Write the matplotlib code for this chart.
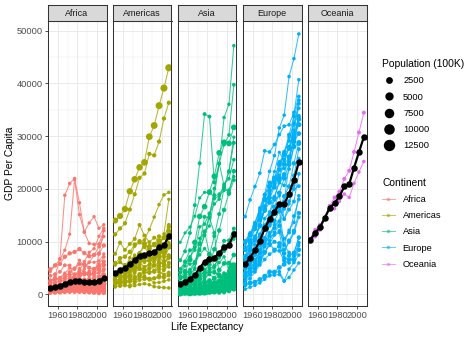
import numpy as np
import matplotlib
matplotlib.use("Agg")
import matplotlib.pyplot as plt
from matplotlib.lines import Line2D

plt.rcParams["font.family"] = ["Liberation Sans", "DejaVu Sans"]

# years of the gapminder snapshots
YEARS = [1952, 1957, 1962, 1967, 1972, 1977, 1982, 1987, 1992, 1997, 2002, 2007]
CONTINENTS = ["Africa", "Americas", "Asia", "Europe", "Oceania"]
COLORS = {"Africa": "#F8766D", "Americas": "#A3A500", "Asia": "#00BF7D",
          "Europe": "#00B0F6", "Oceania": "#E76BF3"}

# GDP per capita by country
AFRICA_GDP = {
    "Libya": [2388, 3448, 6757, 18773, 21011, 21951, 17364, 11770, 9640, 9467, 9535, 12057],
    "Gabon": [4293, 5488, 6631, 8358, 11401, 21746, 15113, 11864, 13522, 14723, 12522, 13206],
    "South Africa": [4725, 5487, 5769, 7114, 7766, 8029, 8568, 7826, 7225, 7479, 7711, 9270],
    "Botswana": [851, 918, 984, 1215, 2264, 3215, 4551, 6206, 7954, 8647, 11004, 12570],
    "Equatorial Guinea": [376, 426, 582, 915, 672, 958, 927, 966, 1132, 2815, 7703, 12154],
    "Mauritius": [1968, 2034, 2529, 2475, 2575, 3710, 3689, 4783, 6058, 7425, 9021, 10957],
    "Algeria": [2449, 3014, 2551, 3247, 4183, 4910, 5745, 5681, 5023, 4797, 5288, 6223],
    "Reunion": [2719, 2769, 3173, 4021, 4998, 4734, 6470, 5303, 6101, 6072, 6316, 7670],
    "Tunisia": [1469, 1395, 1661, 1932, 2753, 3120, 3560, 3810, 4332, 4876, 5723, 7093],
    "Egypt": [1419, 1459, 1693, 1815, 2024, 2785, 3504, 3885, 3795, 4173, 4755, 5581],
    "Morocco": [1688, 1643, 1566, 1711, 1930, 2371, 2702, 2755, 2948, 2983, 3259, 3820],
    "Namibia": [2424, 2621, 3173, 3793, 3747, 3876, 4191, 3693, 3804, 3899, 4072, 4811],
    "Angola": [3521, 3828, 4269, 5523, 5473, 3009, 2757, 2430, 2628, 2277, 2773, 4797],
    "Congo Rep.": [2126, 2315, 2465, 2678, 3213, 3259, 4879, 4201, 4016, 3484, 3484, 3633],
    "Swaziland": [1148, 1244, 1597, 1711, 2370, 3782, 3895, 3985, 3554, 3877, 4128, 4513],
    "Nigeria": [1077, 1101, 1151, 1015, 1698, 1982, 1577, 1385, 1620, 1625, 1615, 2014],
    "Ethiopia": [362, 379, 419, 516, 566, 557, 577, 573, 421, 515, 531, 691],
    "Congo Dem. Rep.": [781, 906, 896, 862, 905, 796, 673, 672, 457, 312, 241, 278],
    "Cameroon": [1173, 1313, 1400, 1508, 1684, 1783, 2368, 2603, 1793, 1694, 1934, 2042],
    "Kenya": [854, 944, 897, 1057, 1222, 1268, 1348, 1361, 1341, 1360, 1288, 1463],
    "Ghana": [911, 1044, 1190, 1126, 1178, 993, 876, 847, 925, 1005, 1112, 1328],
    "Zimbabwe": [407, 519, 527, 570, 799, 686, 788, 706, 693, 792, 672, 470],
    "Sudan": [1615, 1770, 1959, 1687, 1659, 2202, 1896, 1508, 1493, 1633, 1823, 2602],
    "Senegal": [1450, 1568, 1654, 1612, 1597, 1562, 1518, 1441, 1367, 1392, 1519, 1712],
    "Cote d'Ivoire": [1389, 1500, 1728, 2052, 2378, 2518, 2603, 2156, 1648, 1786, 1649, 1545],
    "Tanzania": [717, 698, 722, 848, 916, 962, 875, 831, 825, 789, 899, 1107],
    "Uganda": [735, 774, 767, 908, 950, 844, 683, 618, 644, 816, 928, 1056],
    "Mozambique": [469, 495, 557, 567, 724, 502, 462, 390, 410, 472, 634, 824],
    "Djibouti": [2670, 2865, 3021, 3020, 3694, 3081, 2880, 2880, 2377, 1895, 1908, 2082],
    "Sao Tome and Principe": [880, 861, 1072, 1385, 1533, 1738, 1890, 1516, 1428, 1339, 1353, 1598],
    "Benin": [1173, 1133, 1067, 1361, 1293, 1220, 1428, 1225, 1191, 1233, 1373, 1441],
    "Burkina Faso": [543, 617, 723, 795, 855, 743, 807, 912, 932, 946, 1038, 1217],
    "Burundi": [339, 380, 355, 413, 464, 556, 560, 622, 632, 463, 446, 430],
    "Central African Republic": [1071, 1191, 1193, 1136, 1070, 1109, 957, 844, 748, 741, 738, 706],
    "Chad": [1179, 1308, 1390, 1197, 1104, 1134, 798, 952, 1058, 1005, 1156, 1704],
    "Comoros": [1103, 1211, 1407, 1876, 1938, 1173, 1267, 1316, 1247, 1174, 1076, 986],
    "Gambia": [485, 521, 600, 735, 756, 884, 836, 612, 665, 653, 661, 753],
    "Guinea": [510, 576, 687, 708, 741, 874, 857, 805, 795, 870, 945, 943],
    "Lesotho": [299, 336, 412, 498, 497, 746, 797, 774, 977, 1186, 1275, 1569],
    "Liberia": [576, 620, 634, 714, 803, 641, 573, 506, 636, 610, 531, 415],
    "Madagascar": [1443, 1590, 1644, 1635, 1749, 1544, 1303, 1156, 1041, 987, 895, 1045],
    "Malawi": [369, 416, 428, 496, 585, 663, 632, 635, 563, 692, 665, 759],
    "Mali": [452, 490, 497, 545, 581, 686, 618, 684, 740, 790, 952, 1042],
    "Mauritania": [744, 847, 1055, 1422, 1586, 1497, 1481, 1421, 1361, 1483, 1579, 1803],
    "Niger": [761, 835, 998, 1055, 954, 808, 909, 668, 581, 580, 601, 620],
    "Rwanda": [493, 540, 597, 511, 591, 670, 882, 848, 737, 590, 786, 863],
    "Sierra Leone": [880, 1005, 1117, 1207, 1353, 1349, 1465, 1295, 1069, 575, 699, 863],
    "Somalia": [1136, 1258, 1369, 1285, 1254, 1450, 1177, 1093, 927, 931, 882, 926],
    "Togo": [859, 926, 1067, 1477, 1650, 1533, 1344, 1203, 1034, 982, 886, 883],
    "Zambia": [1147, 1312, 1453, 1777, 1773, 1589, 1409, 1213, 1211, 1071, 1072, 1271],
    "Eritrea": [329, 344, 381, 468, 514, 505, 524, 521, 582, 913, 765, 641],
    "Guinea-Bissau": [300, 432, 522, 716, 820, 765, 839, 736, 745, 797, 576, 579],
}
AMERICAS_GDP = {
    "United States": [13990, 14847, 16173, 19530, 21806, 24073, 25010, 29884, 32004, 35767, 39097, 42952],
    "Canada": [11367, 12490, 13462, 16077, 18971, 22091, 22899, 26627, 26343, 28955, 33329, 36319],
    "Puerto Rico": [3082, 3908, 5108, 6929, 9123, 9771, 10331, 12281, 14642, 16999, 18856, 19329],
    "Venezuela": [7690, 9803, 8423, 9541, 10506, 13144, 11152, 9884, 10734, 10165, 8605, 11416],
    "Trinidad and Tobago": [3023, 4100, 4997, 5621, 6619, 7900, 9119, 7389, 7371, 8793, 11461, 18009],
    "Argentina": [5911, 6857, 7133, 8053, 9443, 10079, 8998, 9140, 9308, 10967, 8798, 12779],
    "Chile": [3940, 4316, 4519, 5107, 5494, 4757, 5096, 5547, 7596, 10118, 10779, 13172],
    "Mexico": [3478, 4132, 4582, 5755, 6809, 7675, 9611, 8688, 9472, 9767, 10742, 11978],
    "Uruguay": [5717, 6150, 5603, 5445, 5703, 6504, 6920, 7452, 8137, 9231, 7727, 10611],
    "Brazil": [2109, 2487, 3337, 3430, 4986, 6660, 7031, 7807, 6950, 7958, 8131, 9066],
    "Panama": [2480, 2961, 3536, 4421, 5364, 5351, 7010, 7034, 6619, 7114, 7357, 9809],
    "Costa Rica": [2627, 2990, 3461, 4162, 5118, 5927, 5263, 5630, 6160, 6677, 7723, 9645],
    "Cuba": [5587, 6092, 5181, 5690, 5306, 6380, 7317, 7532, 5593, 5432, 6341, 8948],
    "Jamaica": [2899, 4757, 5246, 6125, 7434, 6650, 6068, 6352, 7405, 7122, 6995, 7321],
    "Colombia": [2144, 2324, 2492, 2679, 3265, 3816, 4398, 4903, 5445, 6118, 5755, 7007],
    "Peru": [3759, 4245, 4957, 5788, 5938, 6281, 6435, 6361, 4446, 5838, 5909, 7409],
    "Ecuador": [3522, 3781, 4086, 4580, 5281, 6680, 7213, 6481, 7104, 7429, 5773, 6873],
    "Dominican Republic": [1398, 1544, 1662, 1654, 2190, 2682, 2862, 2903, 3045, 3615, 4564, 6025],
    "El Salvador": [3048, 3421, 3777, 4359, 4520, 5139, 4098, 4140, 4444, 5154, 5352, 5728],
    "Guatemala": [2428, 2617, 2750, 3243, 4031, 4880, 4820, 4246, 4439, 4684, 4858, 5186],
    "Paraguay": [1952, 2046, 2149, 2299, 2523, 3248, 4259, 3999, 4196, 4248, 3784, 4173],
    "Bolivia": [2677, 2128, 2181, 2587, 2980, 3548, 3157, 2754, 2962, 3327, 3413, 3822],
    "Honduras": [2195, 2221, 2292, 2538, 2529, 3203, 3122, 3023, 3082, 3160, 3099, 3548],
    "Nicaragua": [3112, 3457, 3635, 4643, 4689, 5487, 3470, 2955, 2170, 2253, 2474, 2749],
    "Haiti": [1840, 1726, 1797, 1456, 1654, 1874, 2011, 1823, 1456, 1342, 1270, 1202],
}
ASIA_GDP = {
    "Singapore": [2315, 2843, 3675, 4977, 8597, 11210, 15169, 18862, 24769, 33519, 36023, 47143],
    "Japan": [3217, 4318, 6577, 9848, 14779, 16610, 19384, 22376, 26825, 28817, 28605, 31656],
    "Hong Kong": [3054, 3629, 4693, 6198, 8316, 11186, 14561, 20038, 24758, 28378, 30209, 39725],
    "Taiwan": [1207, 1508, 1823, 2644, 4063, 5597, 7427, 11055, 15216, 20207, 23235, 28718],
    "Korea, Rep.": [1031, 1488, 1537, 2029, 3031, 4657, 5623, 8533, 12104, 15994, 19234, 23348],
    "Saudi Arabia": [6460, 8157, 11626, 16904, 24837, 34168, 33693, 21199, 24841, 20587, 19014, 21655],
    "Bahrain": [9867, 11636, 12753, 14805, 18269, 19340, 19211, 18524, 19036, 20292, 23404, 29796],
    "Israel": [4087, 5386, 7106, 8394, 12787, 13306, 15367, 17122, 18051, 20897, 21906, 25523],
    "Oman": [1828, 2243, 2925, 4721, 10619, 11848, 12955, 18115, 18617, 19702, 19775, 22316],
    "Iran": [3035, 3290, 4187, 5907, 9614, 11889, 7608, 6643, 7235, 8263, 9241, 11606],
    "Iraq": [4130, 6229, 8342, 8931, 9576, 14688, 14517, 11644, 3746, 3076, 4391, 4471],
    "Lebanon": [4835, 6090, 5715, 6006, 7486, 8659, 7641, 5377, 6890, 8755, 9314, 10461],
    "Malaysia": [1831, 1810, 2037, 2278, 2849, 3828, 4920, 5249, 7278, 10132, 10207, 12452],
    "China": [400, 576, 488, 613, 677, 741, 962, 1379, 1656, 2289, 3119, 4959],
    "India": [547, 590, 658, 701, 724, 813, 856, 977, 1164, 1459, 1747, 2452],
    "Indonesia": [750, 859, 849, 763, 1111, 1383, 1517, 1748, 2383, 3119, 2874, 3541],
    "Thailand": [758, 874, 1006, 1410, 1777, 2127, 2394, 2983, 4617, 5853, 5914, 7458],
    "Jordan": [1547, 1887, 2349, 2742, 2110, 2853, 4161, 4448, 3431, 3646, 3845, 4519],
    "Syria": [1644, 2117, 2194, 1882, 2572, 3196, 3762, 3116, 3341, 4015, 4091, 4185],
    "Philippines": [1273, 1548, 1650, 1814, 1989, 2374, 2604, 2190, 2279, 2537, 2651, 3190],
    "Sri Lanka": [1084, 1073, 1074, 1136, 1213, 1349, 1648, 1877, 2154, 2665, 3015, 3970],
    "Mongolia": [786, 912, 1056, 1226, 1421, 1648, 2000, 2338, 1785, 1902, 2141, 3096],
    "Pakistan": [685, 747, 804, 942, 1050, 1176, 1443, 1705, 1972, 2049, 2093, 2606],
    "Vietnam": [605, 677, 772, 637, 700, 714, 707, 821, 989, 1386, 1764, 2442],
    "Bangladesh": [684, 662, 686, 721, 630, 660, 677, 752, 837, 973, 1136, 1391],
    "Cambodia": [368, 434, 497, 523, 422, 525, 624, 684, 682, 734, 896, 1714],
    "Myanmar": [331, 350, 388, 349, 357, 371, 424, 385, 347, 415, 611, 944],
    "Nepal": [546, 598, 652, 676, 674, 694, 718, 775, 897, 1011, 1057, 1091],
    "Yemen": [782, 805, 826, 862, 1265, 1830, 1978, 1972, 1880, 2153, 2235, 2281],
    "Korea, Dem. Rep.": [1088, 1571, 1621, 2144, 3702, 4106, 4106, 4106, 3726, 1691, 1647, 1593],
    "Afghanistan": [779, 821, 853, 836, 740, 786, 978, 852, 649, 635, 727, 975],
    "West Bank and Gaza": [1516, 1827, 2199, 2650, 3133, 3682, 4336, 5107, 6018, 7111, 4516, 3025],
}
EUROPE_GDP = {
    "Norway": [10095, 11654, 13450, 16362, 18965, 23311, 26299, 31541, 33966, 41283, 44684, 49357],
    "Switzerland": [14734, 17909, 20431, 22966, 27195, 26982, 28398, 30282, 31872, 32135, 34481, 37506],
    "Netherlands": [8942, 11276, 12791, 15363, 18795, 21209, 21399, 23651, 26791, 30246, 33725, 36798],
    "Ireland": [5210, 5599, 6632, 7656, 9531, 11151, 12618, 13873, 17558, 24522, 34077, 40676],
    "Iceland": [7268, 9244, 10350, 13320, 15798, 19655, 23270, 26924, 25144, 28061, 31163, 36181],
    "Denmark": [9692, 11100, 13584, 15938, 18867, 20423, 21688, 25116, 26407, 29804, 32167, 35278],
    "Austria": [6137, 8843, 10751, 12835, 16662, 19749, 21597, 23688, 27042, 29096, 32418, 36126],
    "Sweden": [8528, 9912, 12329, 15259, 17832, 18856, 20667, 23587, 23880, 25267, 29342, 33860],
    "Belgium": [8343, 9715, 10991, 13149, 16672, 19118, 20979, 22526, 25576, 27561, 30486, 33693],
    "Germany": [7144, 10188, 12902, 14746, 18016, 20513, 22032, 24639, 26505, 27789, 30036, 32170],
    "United Kingdom": [9980, 11283, 12477, 14143, 15895, 17429, 18232, 21665, 22705, 26075, 29479, 33203],
    "Finland": [6425, 7545, 9372, 10922, 14359, 15605, 18533, 21141, 20647, 23724, 28205, 33207],
    "France": [7030, 8663, 10560, 12999, 16107, 18293, 20294, 22066, 24704, 25890, 28926, 30470],
    "Italy": [4931, 6249, 8244, 10022, 12269, 14256, 16537, 19208, 22013, 24675, 27968, 28570],
    "Spain": [3834, 4565, 5694, 7994, 10639, 13237, 13926, 15765, 18603, 20445, 24835, 28821],
    "Greece": [3531, 4916, 6017, 8513, 12725, 14196, 15268, 16121, 17541, 18748, 22514, 27538],
    "Slovenia": [4215, 5862, 7402, 9405, 12384, 15277, 17866, 18678, 14214, 17161, 20660, 25768],
    "Czech Republic": [6876, 8256, 10137, 11399, 13108, 14800, 15377, 16310, 14297, 16049, 17596, 22833],
    "Portugal": [3068, 3775, 4728, 6362, 9022, 10172, 11754, 13040, 16207, 17641, 19971, 20510],
    "Slovak Republic": [5074, 6093, 7481, 8412, 9674, 10923, 11348, 12037, 9498, 12127, 13639, 18678],
    "Hungary": [5264, 6040, 7550, 9326, 10168, 11674, 12546, 12987, 10535, 11712, 14843, 18009],
    "Poland": [4029, 4734, 5338, 6557, 8006, 9508, 8451, 9082, 7739, 10160, 12002, 15390],
    "Croatia": [3119, 4338, 5478, 6960, 9164, 11305, 13222, 13823, 8448, 9876, 11628, 14619],
    "Montenegro": [2648, 3682, 4650, 5907, 7779, 9595, 11223, 11733, 7003, 6465, 6558, 9254],
    "Serbia": [3581, 4981, 6290, 7992, 10523, 12980, 15181, 15871, 9326, 7915, 7236, 9787],
    "Romania": [3145, 3943, 4734, 6471, 8011, 9357, 9956, 9697, 6598, 7346, 7886, 10808],
    "Bulgaria": [2444, 3009, 4255, 5578, 6597, 7613, 8225, 8240, 6303, 5970, 7697, 10681],
    "Turkey": [1970, 2219, 2323, 2826, 3451, 4269, 4241, 5089, 5679, 6601, 6509, 8458],
    "Bosnia and Herzegovina": [974, 1354, 1710, 2172, 2860, 3528, 4127, 4314, 2547, 4766, 6019, 7446],
    "Albania": [1601, 1942, 2313, 2760, 3313, 3533, 3631, 3739, 2497, 3193, 4604, 5937],
}
OCEANIA_GDP = {
    "Australia": [10040, 10950, 12217, 14526, 16789, 18334, 19477, 21889, 23425, 26998, 30688, 34435],
    "New Zealand": [10557, 12247, 13176, 14464, 16046, 16234, 17632, 19007, 18363, 21050, 23190, 25185],
}

# population in millions (one typical value, or one per year for the giants)
AFRICA_POP = {
    "Libya": 3, "Gabon": 0.7, "South Africa": 30, "Botswana": 1, "Equatorial Guinea": 0.3,
    "Mauritius": 1, "Algeria": 20, "Reunion": 0.5, "Tunisia": 7, "Egypt": 45, "Morocco": 20,
    "Namibia": 1.2, "Angola": 8, "Congo Rep.": 2, "Swaziland": 0.6, "Nigeria": 75,
    "Ethiopia": 40, "Congo Dem. Rep.": 30, "Cameroon": 10, "Kenya": 18, "Ghana": 12,
    "Zimbabwe": 8, "Sudan": 20, "Senegal": 6, "Cote d'Ivoire": 9, "Tanzania": 19,
    "Uganda": 14, "Mozambique": 12, "Djibouti": 0.3, "Sao Tome and Principe": 0.1,
    "Benin": 4, "Burkina Faso": 7, "Burundi": 4.5, "Central African Republic": 2.5,
    "Chad": 5, "Comoros": 0.4, "Gambia": 0.7, "Guinea": 5, "Lesotho": 1.4, "Liberia": 2,
    "Madagascar": 10, "Malawi": 7, "Mali": 7, "Mauritania": 1.6, "Niger": 6, "Rwanda": 5.5,
    "Sierra Leone": 3.5, "Somalia": 6, "Togo": 3, "Zambia": 6, "Eritrea": 2.5,
    "Guinea-Bissau": 0.8,
}
AMERICAS_POP = {
    "United States": [157.6, 172.0, 186.5, 198.7, 209.9, 220.2, 232.2, 242.8, 256.9, 272.9, 287.7, 301.1],
    "Canada": 25, "Puerto Rico": 3.2, "Venezuela": 15, "Trinidad and Tobago": 1.1,
    "Argentina": 28, "Chile": 11, "Mexico": 70, "Uruguay": 2.9,
    "Brazil": [56.6, 65.6, 76.0, 88.0, 100.8, 114.3, 129.0, 142.9, 156.0, 168.5, 179.9, 190.0],
    "Panama": 2, "Costa Rica": 2.4, "Cuba": 9.7, "Jamaica": 2.2, "Colombia": 28, "Peru": 18,
    "Ecuador": 8, "Dominican Republic": 6, "El Salvador": 4.7, "Guatemala": 7,
    "Paraguay": 3.2, "Bolivia": 5.6, "Honduras": 3.8, "Nicaragua": 3, "Haiti": 5.5,
}
ASIA_POP = {
    "Singapore": 2.3,
    "Japan": [86.5, 91.6, 95.8, 100.8, 107.2, 113.9, 118.5, 122.1, 124.3, 126.0, 127.1, 127.5],
    "Hong Kong": 5, "Taiwan": 18, "Korea, Rep.": 38, "Saudi Arabia": 12, "Bahrain": 0.35,
    "Israel": 4, "Oman": 1.3, "Iran": 40, "Iraq": 14, "Lebanon": 2.8, "Malaysia": 14,
    "China": [556, 637, 666, 755, 862, 943, 1000, 1084, 1165, 1230, 1280, 1319],
    "India": [372, 409, 454, 506, 567, 634, 708, 788, 872, 959, 1034, 1110],
    "Indonesia": [82, 90, 99, 110, 121, 136, 153, 169, 184, 199, 211, 224],
    "Thailand": 48, "Jordan": 2.5, "Syria": 9, "Philippines": 50, "Sri Lanka": 15,
    "Mongolia": 1.7, "Pakistan": 85, "Vietnam": 55, "Bangladesh": 90, "Cambodia": 7,
    "Myanmar": 35, "Nepal": 15, "Yemen": 9, "Korea, Dem. Rep.": 18, "Afghanistan": 13,
    "West Bank and Gaza": 1.5,
}
EUROPE_POP = {
    "Norway": 4.1, "Switzerland": 6.4, "Netherlands": 14, "Ireland": 3.3, "Iceland": 0.23,
    "Denmark": 5.1, "Austria": 7.5, "Sweden": 8.3, "Belgium": 9.9, "Germany": 78,
    "United Kingdom": 56, "Finland": 4.8, "France": 54, "Italy": 56, "Spain": 37,
    "Greece": 9.7, "Slovenia": 1.9, "Czech Republic": 10, "Portugal": 9.8,
    "Slovak Republic": 5, "Hungary": 10.5, "Poland": 36, "Croatia": 4.5, "Montenegro": 0.58,
    "Serbia": 9, "Romania": 22, "Bulgaria": 8.8, "Turkey": 46,
    "Bosnia and Herzegovina": 4, "Albania": 2.7,
}
OCEANIA_POP = {"Australia": 15, "New Zealand": 3.2}

# continent mean GDP per capita (black line)
AFRICA_MEAN = [1253, 1385, 1598, 2050, 2340, 2586, 2482, 2283, 2282, 2379, 2599, 3089]
AMERICAS_MEAN = [4079, 4616, 4902, 5668, 6491, 7352, 7507, 7793, 8045, 8889, 9288, 11003]
ASIA_MEAN = [1971, 2421, 2925, 3630, 5026, 6183, 6687, 6967, 7818, 8882, 9395, 11384]
EUROPE_MEAN = [5661, 6963, 8365, 10144, 12480, 14284, 15618, 17214, 17062, 19077, 21712, 25054]
OCEANIA_MEAN = [10298, 11599, 12696, 14495, 16417, 17284, 18555, 20448, 20894, 24024, 26939, 29810]

SIZE_BREAKS = [2500, 5000, 7500, 10000, 12500]
POP_LIMITS = (0.6, 13186)  # in 100K

GDP = dict(zip(CONTINENTS, [AFRICA_GDP, AMERICAS_GDP, ASIA_GDP, EUROPE_GDP, OCEANIA_GDP]))
POP = dict(zip(CONTINENTS, [AFRICA_POP, AMERICAS_POP, ASIA_POP, EUROPE_POP, OCEANIA_POP]))
MEAN = dict(zip(CONTINENTS, [AFRICA_MEAN, AMERICAS_MEAN, ASIA_MEAN, EUROPE_MEAN, OCEANIA_MEAN]))

W, H, DPI = 474, 338, 100
TICK_FS = 6.7
TITLE_FS = 7.4


def gg_size(p100k):
    lo, hi = POP_LIMITS
    return 1 + 5 * np.sqrt(np.clip((np.asarray(p100k, float) - lo) / (hi - lo), 0, 1))


def diam_pt(size):
    return (1.7 * size + 1.4) * 72 / DPI


# shared limits like ggplot (5% expansion)
allv = np.concatenate([np.ravel(list(d.values())) for d in GDP.values()])
ymin, ymax = allv.min(), allv.max()
ypad = (ymax - ymin) * 0.05
xpad = (YEARS[-1] - YEARS[0]) * 0.05

fig = plt.figure(figsize=(W / DPI, H / DPI), dpi=DPI)

for i, cont in enumerate(CONTINENTS):
    left = 47.5 + i * 65
    ax = fig.add_axes([left / W, 1 - 306 / H, 59 / W, 285 / H])
    col = COLORS[cont]
    for name, vals in GDP[cont].items():
        ax.plot(YEARS, vals, color=col, lw=0.75, alpha=0.8, zorder=2)
    for name, vals in GDP[cont].items():
        pop = np.broadcast_to(np.asarray(POP[cont][name], float) * 10, (len(YEARS),))
        ax.scatter(YEARS, vals, s=diam_pt(gg_size(pop)) ** 2, color=col, lw=0, zorder=3)
    ax.plot(YEARS, MEAN[cont], color="black", lw=1.6, zorder=4)
    ax.scatter(YEARS, MEAN[cont], s=diam_pt(3.0) ** 2, color="black", lw=0, zorder=5)

    ax.set_xlim(YEARS[0] - xpad, YEARS[-1] + xpad)
    ax.set_ylim(ymin - ypad, ymax + ypad)
    ax.set_xticks([1960, 1980, 2000])
    ax.set_xticks([1950, 1970, 1990], minor=True)
    ax.set_yticks(np.arange(0, 50001, 10000))
    ax.set_yticks(np.arange(5000, 50000, 10000), minor=True)
    ax.grid(which="major", color="#EBEBEB", lw=0.7, zorder=0)
    ax.grid(which="minor", color="#EBEBEB", lw=0.35, zorder=0)
    ax.set_axisbelow(True)
    ax.tick_params(which="major", labelsize=TICK_FS, color="#333333", labelcolor="#4D4D4D",
                   length=2.0, width=0.6, pad=1.4)
    ax.tick_params(which="minor", length=0)
    if i > 0:
        ax.tick_params(left=False, labelleft=False)
    for sp in ax.spines.values():
        sp.set_color("#333333")
        sp.set_linewidth(0.75)

    strip = fig.add_axes([left / W, 1 - 21 / H, 59 / W, 16 / H])
    strip.set_facecolor("#D9D9D9")
    strip.set_xticks([])
    strip.set_yticks([])
    for sp in strip.spines.values():
        sp.set_color("#333333")
        sp.set_linewidth(0.75)
    strip.text(0.5, 0.5, cont, ha="center", va="center", fontsize=6.5, color="#1A1A1A",
               transform=strip.transAxes)

fig.text(10 / W, 1 - 163.5 / H, "GDP Per Capita", rotation=90, ha="center", va="center",
         fontsize=TITLE_FS)
fig.text(207 / W, 1 - 327 / H, "Life Expectancy", ha="center", va="center", fontsize=TITLE_FS)

size_handles = [Line2D([], [], ls="", marker="o", color="black", markeredgewidth=0,
                       markersize=diam_pt(gg_size(v))) for v in SIZE_BREAKS]
leg1 = fig.legend(size_handles, [str(v) for v in SIZE_BREAKS], title="Population (100K)",
                  loc="upper left", bbox_to_anchor=(370.5 / W, 1 - 47.5 / H), frameon=False,
                  fontsize=TICK_FS, title_fontsize=TITLE_FS, alignment="left", borderpad=1.25,
                  borderaxespad=0, handlelength=1.5, handletextpad=0.75, labelspacing=0.78)

cont_handles = [Line2D([], [], color=COLORS[c], lw=0.75, alpha=0.6, marker="o",
                       markersize=diam_pt(1.2), markeredgewidth=0) for c in CONTINENTS]
leg2 = fig.legend(cont_handles, CONTINENTS, title="Continent", loc="upper left",
                  bbox_to_anchor=(370.5 / W, 1 - 166 / H), frameon=False, fontsize=TICK_FS,
                  title_fontsize=TITLE_FS, alignment="left", borderpad=1.25, borderaxespad=0,
                  handlelength=1.35, handletextpad=0.85, labelspacing=0.78)

fig.savefig("out.png", dpi=DPI)
